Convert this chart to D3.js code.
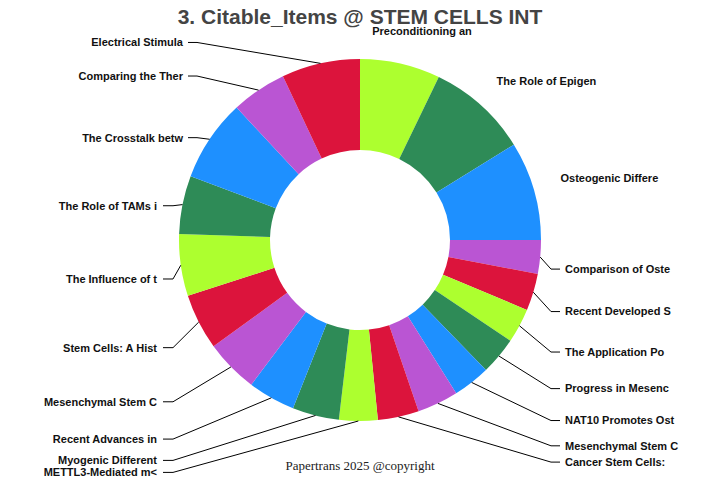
<!DOCTYPE html>
<html>
<head>
<meta charset="utf-8">
<script src="https://cdn.jsdelivr.net/npm/d3@7"></script>
<style>
  body { margin: 0; background: #fff; }
  svg { display: block; }
</style>
</head>
<body>
<div id="chart"></div>
<script>
var w = 720;
var h = 480;

// slice labels, clockwise from 12 o'clock
var titles = [
    "Preconditioning an", "The Role of Epigen", "Osteogenic Differe",
    "Comparison of Oste", "Recent Developed S", "The Application Po",
    "Progress in Mesenc", "NAT10 Promotes Ost", "Mesenchymal Stem C",
    "Cancer Stem Cells:", "METTL3-Mediated m<", "Myogenic Different",
    "Recent Advances in", "Mesenchymal Stem C", "Stem Cells: A Hist",
    "The Influence of t", "The Role of TAMs i", "The Crosstalk betw",
    "Comparing the Ther", "Electrical Stimula"
];
// share of citable items
var shares = [7.17, 9.0, 8.83, 3.0, 3.31, 3.08, 3.36, 3.33, 3.67, 3.67,
              3.44, 4.17, 4.22, 4.75, 5.0, 5.53, 5.19, 7.33, 4.94, 7.0];
var palette = ["#ADFF2F", "#2E8B57", "#1E90FF", "#BA55D3", "#DC143C"];

var cx = 360, cy = 240;
var rIn = 90, rOut = 181;

var svg = d3.select("#chart")
            .append("svg")
            .attr("width", w)
            .attr("height", h);

svg.append("text")
    .attr("x", w / 2)
    .attr("y", 24)
    .attr("text-anchor", "middle")
    .style("font-family", "'Liberation Sans', Arial, sans-serif")
    .style("font-weight", "bold")
    .style("font-size", "21px")
    .style("fill", "#444")
    .text("3. Citable_Items @ STEM CELLS INT");

var pie = d3.pie()
    .sort(null)
    .value(function(d) { return d; });

var arcs = pie(shares);

var arc = d3.arc()
    .innerRadius(rIn)
    .outerRadius(rOut);

var g = svg.append("g")
    .attr("transform", "translate(" + cx + "," + cy + ")");

g.selectAll("path")
    .data(arcs)
    .enter()
    .append("path")
    .attr("d", arc)
    .style("fill", function(d, i) { return palette[i % palette.length]; });

// label layout
var labels = arcs.map(function(d, i) {
    var m = (d.startAngle + d.endAngle) / 2;
    var o = { text: titles[i], m: m };
    o.start = [rOut * Math.sin(m), -rOut * Math.cos(m)];
    if (m < Math.PI / 2) {
        // upper right slices: plain label, no leader line
        var a = m - 0.025;
        // too close to the title -> slide back to the slice's start edge
        if (-210 * Math.cos(a) < -200) a = d.startAngle + 0.058;
        o.line = false;
        o.x = 210 * Math.sin(a);
        o.y = -209 * Math.cos(a);
        o.side = "none";
        return o;
    }
    o.line = true;
    o.y = 8.5 - 218.6 * Math.cos(m);
    if (m < Math.PI) {
        o.side = "right";
        o.elbow = 191; o.end = 200; o.x = 205;
    } else if (o.y < -60) {
        o.side = "left";
        o.y = 24 - 227 * Math.cos(m);
        o.elbow = -163; o.end = -172; o.x = -177;
    } else {
        o.side = "left";
        o.elbow = -187; o.end = -197; o.x = -203;
    }
    return o;
});

// keep labels on each side from overlapping
["left", "right"].forEach(function(side) {
    var list = labels.filter(function(l) { return l.side === side; })
                     .sort(function(a, b) { return a.y - b.y; });
    for (var k = 1; k < list.length; k++) {
        if (list[k].y < list[k - 1].y + 12) list[k].y = list[k - 1].y + 12;
    }
});

g.selectAll("polyline")
    .data(labels.filter(function(l) { return l.line; }))
    .enter()
    .append("polyline")
    .attr("points", function(l) {
        return [l.start, [l.elbow, l.y], [l.end, l.y]].join(" ");
    })
    .style("fill", "none")
    .style("stroke", "#000")
    .style("stroke-width", 1);

g.selectAll("text.lbl")
    .data(labels)
    .enter()
    .append("text")
    .attr("class", "lbl")
    .attr("x", function(l) { return l.x; })
    .attr("y", function(l) { return l.y; })
    .attr("dy", "0.35em")
    .attr("text-anchor", function(l) { return l.side === "left" ? "end" : "start"; })
    .style("font-family", "'Liberation Sans', Arial, sans-serif")
    .style("font-weight", "bold")
    .style("font-size", "11px")
    .style("fill", "#111")
    .text(function(l) { return l.text; });

svg.append("text")
    .attr("x", w / 2)
    .attr("y", 470)
    .attr("text-anchor", "middle")
    .style("font-family", "'Liberation Serif', 'Times New Roman', serif")
    .style("font-size", "13px")
    .style("fill", "#222")
    .text("Papertrans 2025 @copyright");
</script>
</body>
</html>
